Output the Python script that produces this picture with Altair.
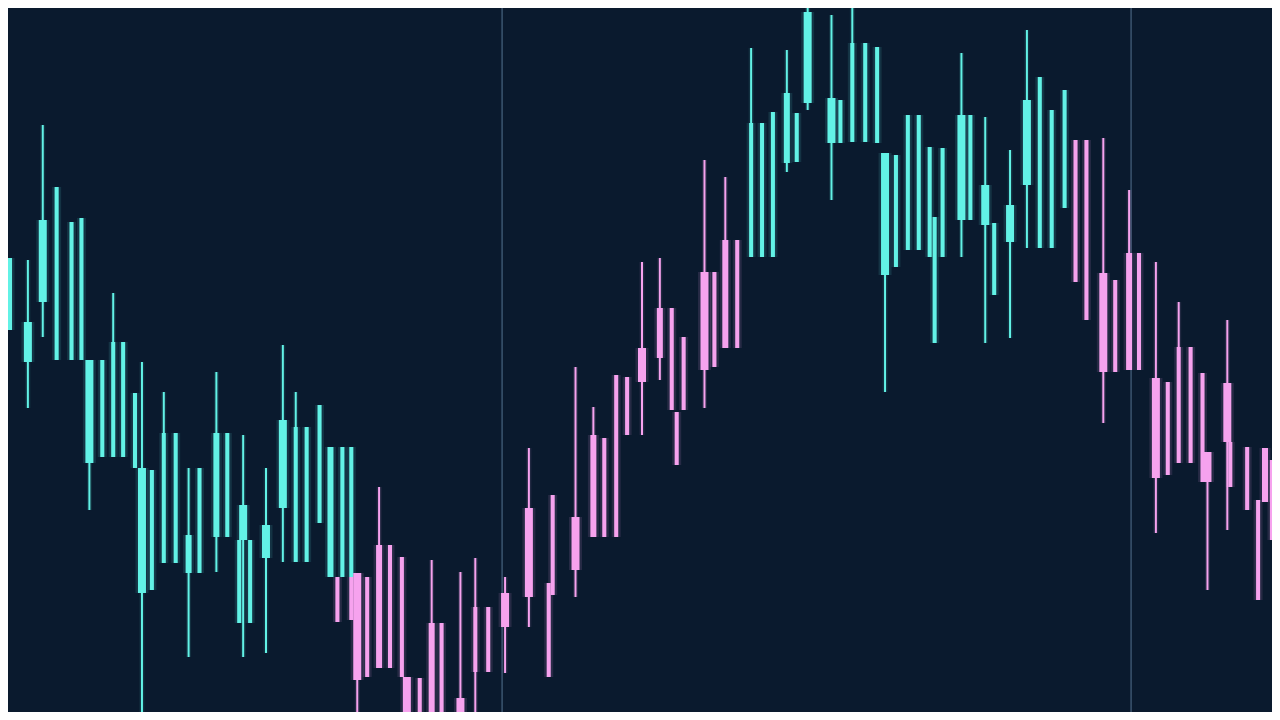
import altair as alt
import pandas as pd

# Candles. Levels are read as distance from the top of the chart
# and converted to price (price = 720 - level).
x_pos = [5, 23, 38, 52, 67, 77, 85, 98, 109, 119, 131, 138, 148, 160, 172, 185, 196, 213, 224,
         236, 240, 247, 263, 280, 293, 304, 317, 328, 340, 349,
         335, 349, 355, 365, 377, 388, 400, 405, 418, 430, 440, 459, 474, 487, 504, 528, 548, 552,
         575, 593, 604, 616, 627, 642, 660, 672, 677, 684, 705, 715, 726, 738,
         752, 763, 774, 788, 798, 809, 833, 842, 854, 867, 879, 887, 898, 910, 921, 932, 937, 945,
         964, 973, 988, 997, 1013, 1030, 1043, 1055, 1068,
         1079, 1090, 1107, 1119, 1133, 1143, 1160, 1172, 1183, 1195, 1207, 1212, 1232, 1235, 1252,
         1263, 1270, 1277]
wick_top = [258, 260, 125, 187, 222, 218, 360, 360, 293, 342, 393, 362, 470, 392, 433, 468, 468, 372, 433,
            540, 435, 540, 468, 345, 392, 427, 405, 447, 447, 447,
            577, 577, 573, 577, 487, 545, 557, 677, 678, 560, 623, 572, 558, 607, 577, 448, 583, 495,
            367, 407, 438, 375, 377, 262, 258, 308, 412, 337, 160, 272, 177, 240,
            48, 123, 112, 50, 113, 0, 15, 100, 0, 43, 47, 153, 155, 115, 115, 147, 217, 148,
            53, 115, 117, 223, 150, 30, 77, 110, 90,
            140, 140, 138, 280, 190, 253, 262, 382, 302, 347, 373, 452, 320, 442, 447,
            500, 448, 460]
wick_bot = [330, 408, 337, 360, 360, 360, 510, 457, 457, 457, 468, 720, 590, 563, 563, 657, 573, 572, 537,
            623, 657, 623, 653, 562, 562, 562, 523, 577, 577, 577,
            622, 620, 720, 677, 668, 668, 677, 720, 720, 720, 713, 720, 715, 672, 673, 627, 677, 595,
            597, 537, 537, 537, 435, 435, 380, 410, 465, 410, 408, 367, 348, 348,
            257, 257, 257, 172, 162, 110, 200, 143, 142, 142, 143, 392, 267, 250, 250, 257, 343, 257,
            257, 220, 343, 295, 338, 248, 248, 248, 208,
            282, 320, 423, 372, 370, 370, 533, 475, 463, 463, 482, 590, 530, 487, 510,
            600, 502, 540]
body_top = [258, 322, 220, 187, 222, 218, 360, 360, 342, 342, 393, 468, 470, 433, 433, 535, 468, 433, 433,
            540, 505, 540, 525, 420, 427, 427, 405, 447, 447, 447,
            577, 577, 573, 577, 545, 545, 557, 677, 678, 623, 623, 698, 607, 607, 593, 508, 583, 495,
            517, 435, 438, 375, 377, 348, 308, 308, 412, 337, 272, 272, 240, 240,
            123, 123, 112, 93, 113, 12, 98, 100, 43, 43, 47, 153, 155, 115, 115, 147, 217, 148,
            115, 115, 185, 223, 205, 100, 77, 110, 90,
            140, 140, 273, 280, 253, 253, 378, 382, 347, 347, 373, 452, 383, 442, 447,
            500, 448, 460]
body_bot = [330, 362, 302, 360, 360, 360, 463, 457, 457, 457, 468, 593, 590, 563, 563, 573, 573, 537, 537,
            623, 540, 623, 558, 508, 562, 562, 523, 577, 577, 577,
            622, 620, 680, 677, 668, 668, 677, 720, 720, 720, 713, 720, 672, 672, 627, 597, 677, 595,
            570, 537, 537, 537, 435, 382, 358, 410, 465, 410, 370, 367, 348, 348,
            257, 257, 257, 163, 162, 103, 143, 143, 142, 142, 143, 275, 267, 250, 250, 257, 343, 257,
            220, 220, 225, 295, 242, 185, 248, 248, 208,
            282, 320, 372, 372, 370, 370, 478, 475, 463, 463, 482, 482, 442, 487, 510,
            600, 502, 540]
kind = ["T", "W", "W", "T", "T", "T", "W", "T", "T", "T", "T", "W", "T", "T", "T", "M", "T", "M", "T",
        "T", "W", "T", "W", "W", "T", "T", "T", "M", "T", "T",
        "T", "T", "W", "T", "M", "T", "T", "W", "T", "M", "T", "W", "T", "T", "W", "W", "T", "T",
        "W", "M", "T", "T", "T", "W", "M", "T", "T", "T", "W", "T", "M", "T",
        "T", "T", "T", "M", "T", "W", "W", "T", "T", "T", "T", "W", "T", "T", "T", "T", "T", "T",
        "W", "T", "W", "T", "W", "W", "T", "T", "T",
        "T", "T", "W", "T", "M", "T", "W", "T", "T", "T", "T", "W", "W", "T", "T",
        "T", "M", "T"]
series = (["cyan"] * 30 + ["pink"] * 32 + ["cyan"] * 27 + ["pink"] * 18)

TOP = 720
df = pd.DataFrame({
    "t": x_pos,
    "high": [TOP - v for v in wick_top],
    "low": [TOP - v for v in wick_bot],
    "top": [TOP - v for v in body_top],
    "bottom": [TOP - v for v in body_bot],
    "kind": kind,
    "series": series,
})

grid_t = [501, 1135]
grid_df = pd.DataFrame({"t": grid_t})

xscale = alt.Scale(domain=[8, 1272], nice=False, zero=False)
yscale = alt.Scale(domain=[8, 712], nice=False, zero=False)
cscale = alt.Scale(domain=["cyan", "pink"], range=["#62f2e6", "#f6a2ee"])

X = alt.X("t:Q", scale=xscale, axis=None)
C = alt.Color("series:N", scale=cscale, legend=None)

grid = alt.Chart(grid_df).mark_rule(color="#3b5570", strokeWidth=1.5).encode(x=X)

base = alt.Chart(df)

glow_wick = base.mark_rule(strokeWidth=5, opacity=0.1, clip=True).encode(
    x=X, y=alt.Y("low:Q", scale=yscale, axis=None), y2="high:Q", color=C)
glow_body = base.mark_bar(opacity=0.12, clip=True).encode(
    x=X, y=alt.Y("bottom:Q", scale=yscale, axis=None), y2="top:Q", color=C,
    size=alt.Size("kind:N", scale=alt.Scale(domain=["T", "M", "W"], range=[9, 13, 21]), legend=None))
wick = base.mark_rule(strokeWidth=2, clip=True).encode(
    x=X, y=alt.Y("low:Q", scale=yscale, axis=None), y2="high:Q", color=C)
body = base.mark_bar(clip=True).encode(
    x=X, y=alt.Y("bottom:Q", scale=yscale, axis=None), y2="top:Q", color=C,
    size=alt.Size("kind:N", scale=alt.Scale(domain=["T", "M", "W"], range=[4, 8, 16]), legend=None))

chart = alt.layer(grid, glow_wick, glow_body, wick, body).resolve_scale(size="independent").properties(
    width=1264, height=704, padding=0, autosize=alt.AutoSizeParams(type="none"),
    background="#0a1a2e",
).configure_view(stroke=None)

chart.save("out.html", embed_options={"renderer": "svg", "actions": False})
